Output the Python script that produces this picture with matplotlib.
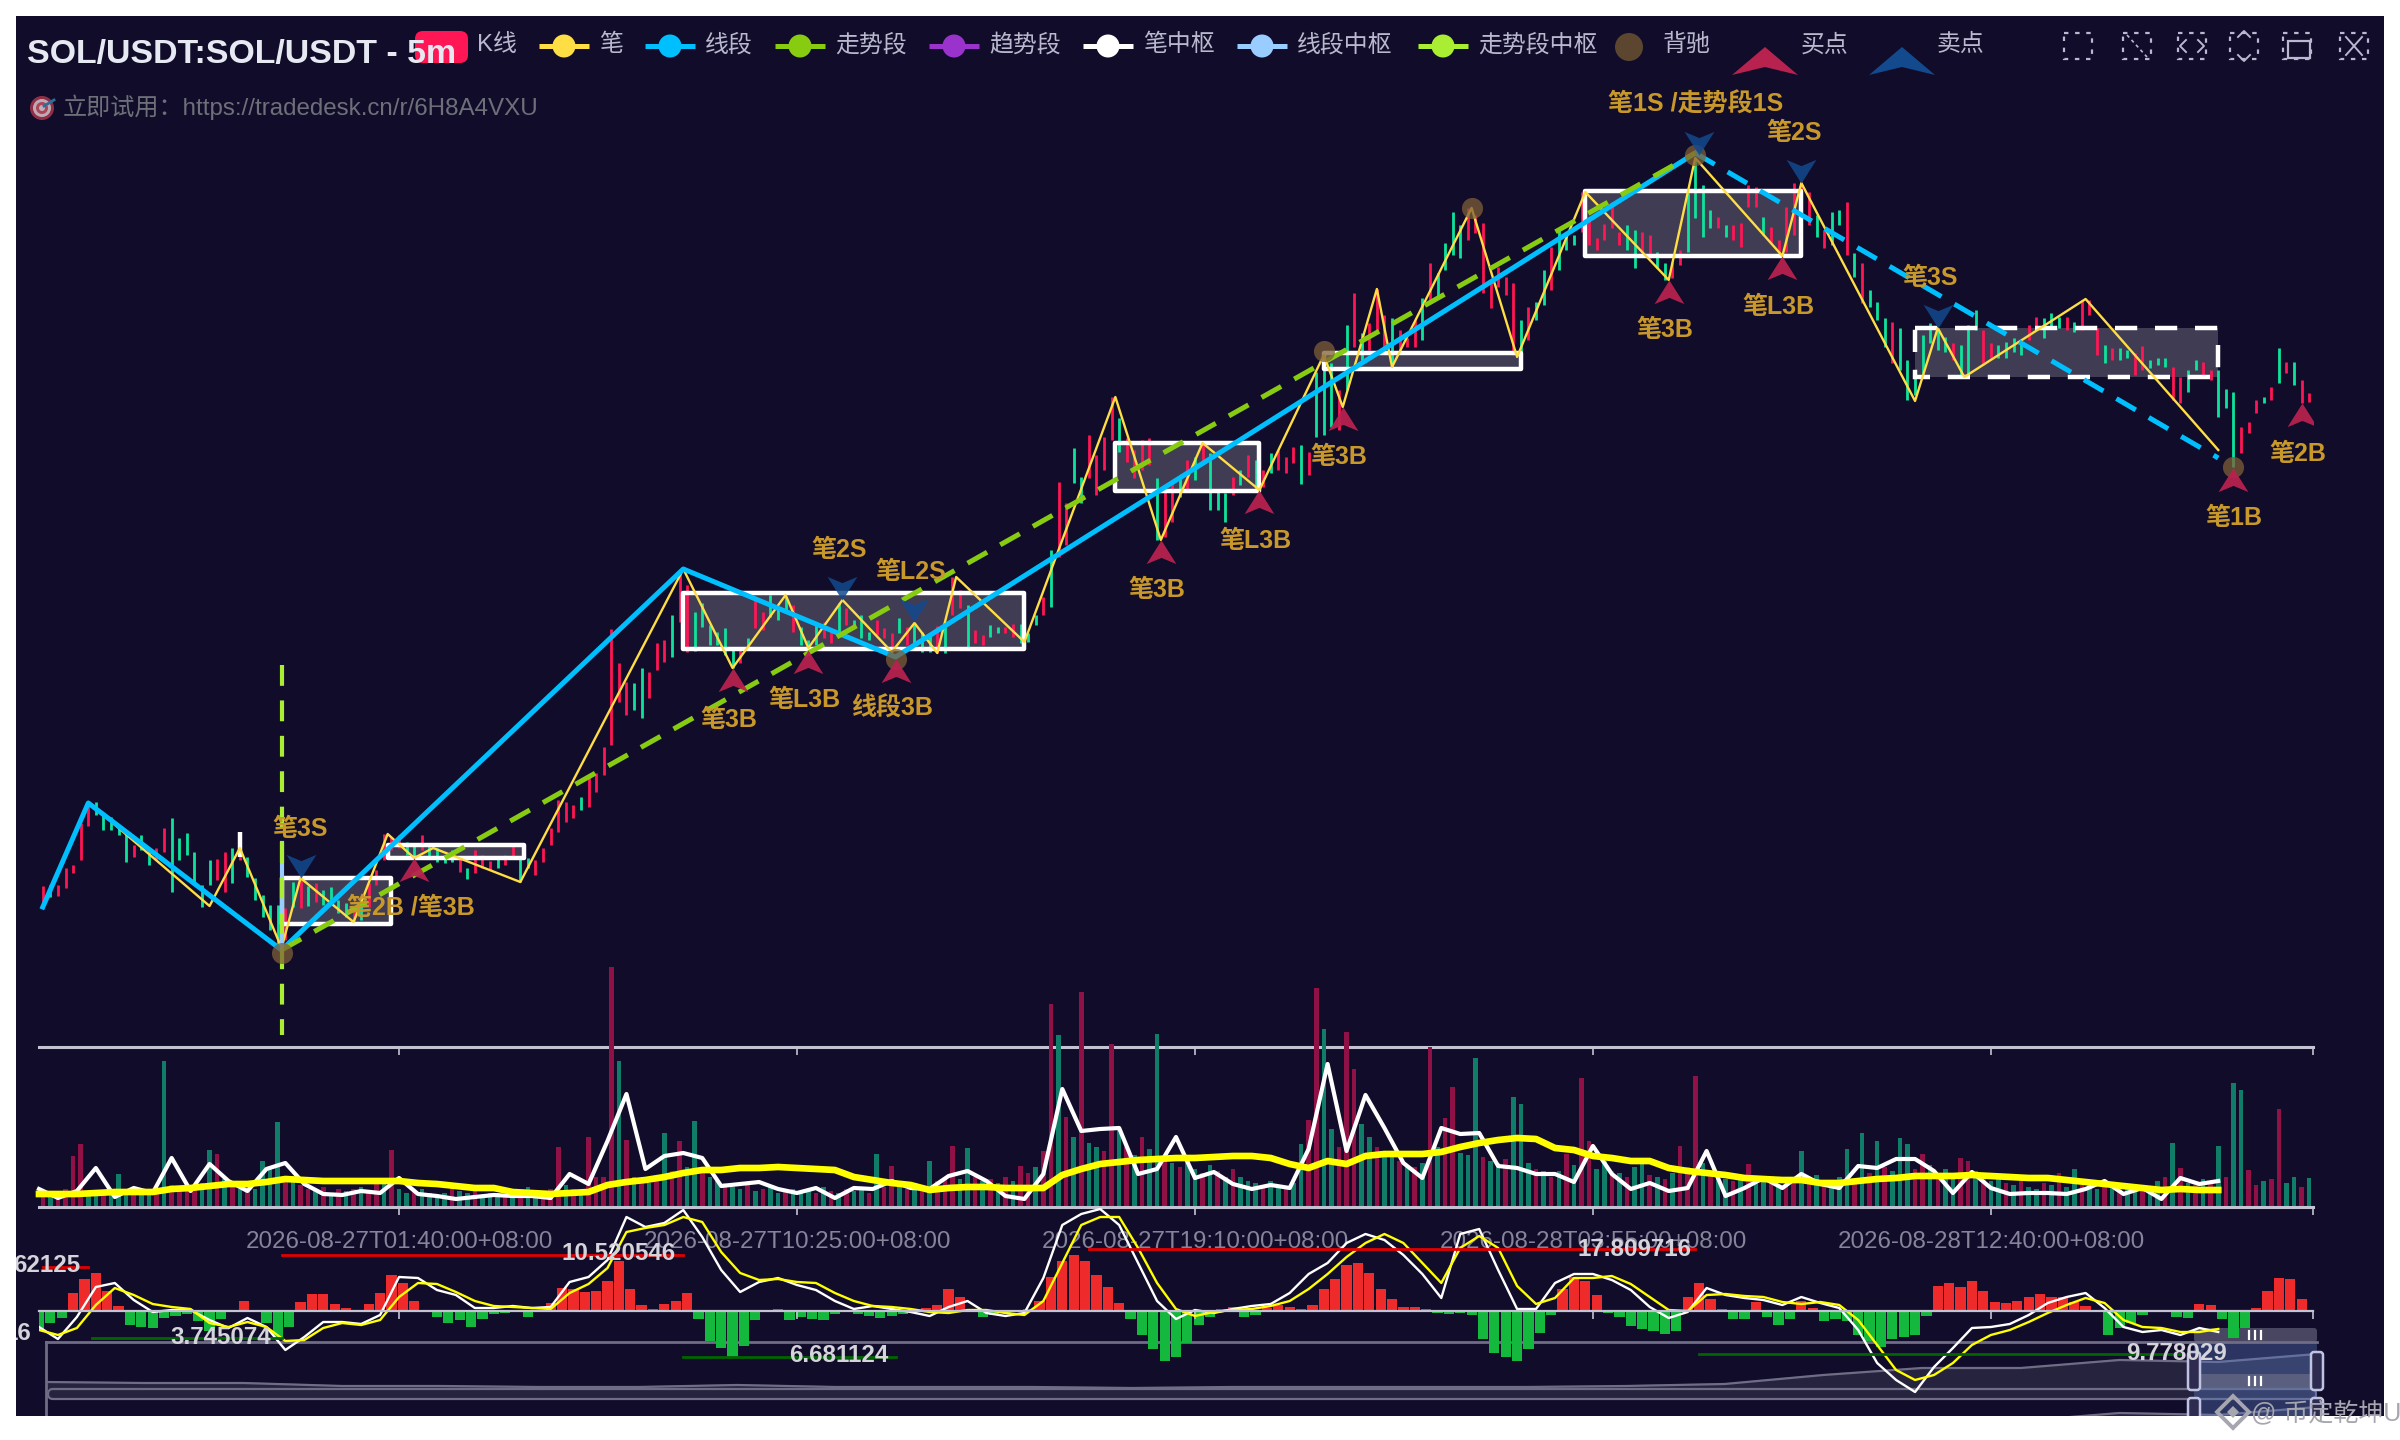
import matplotlib
matplotlib.use('Agg')
import matplotlib.pyplot as plt
import numpy as np
from matplotlib.patches import Rectangle, FancyBboxPatch, Circle, Polygon
from matplotlib.path import Path

plt.rcParams['font.family'] = ['Liberation Sans', 'Noto Sans CJK SC', 'DejaVu Sans']

# no price axis in the picture, so price levels are read as rows and the axis runs downward
candle_top = [886,885,885,868,865,823,803,
    802,815,817,825,830,845,835,848,848,828,818,838,833,852,885,
    860,859,852,848, 847,857,878,895,905,905, 908,882,878,
    886,883,890,887,900,903,910, 903,883,870,834, 837,835,842,843, 835,845,
    848,855,850,858,868,850,855,861,857,855,845,858,
    858,860,848,828,800,802,805,797,777,773,747,629,663,682,683,668,672,643,640,615,569,
    585,612,603,625,632,628,650,650,638,597,612,595,607,597,605,627,640,625,622,628,603,608,
    620,615,632,620,628,633,618,627,623,632,633,626,622,577,590,605,630,635,625,627,627,624,624,633,
    615,597,550,482,503,448,477,435,455,437,397,
    418,438,450,440,438,478, 487,482,478,460,457,444, 453,492,493,477,470,455,460,
    470,453,450,457,447,445,452,372, 355,363,390, 325,293,333,323,289, 315,318,
    330,338,320,298,263,273,243,212,225,208, 215,223,280,267,277,283,
    320,307,302,270,247,228,233,235,192, 220,238,224,202,232,225,230,232,235,252,263,
    262,250,193,158, 185,210,217,225,225,223,185,187,217,227,240, 207,183,
    185,192,215,230,212,210,202,253,263,290,302,318,322,328,360, 372,335,323, 330,337,343,345,
    325,310,330,343,345,342,338,343,325,317,318,313,317,317,322,300,
    300,328,345,348,348,350,353,346,360,358,358,367,377,370,360,362,370,370,
    389,392, 427,422,400,397,387,348,362,362,380,393]
candle_bot = [905,897,896,888,873,860,826,
    815,830,830,835,862,857,850,865,860,852,892,860,855,885,907,
    885,880,892,883, 860,877,900,917,930,948, 940,907,908,
    906,902,905,903,913,917,923, 920,907,885,860, 850,848,855,858, 850,858,
    862,863,862,872,879,873,868,870,868,865,857,882,
    868,875,862,845,832,822,818,810,807,792,775,745,702,715,710,718,698,670,662,657,622,
    652,651,627,645,645,655,668,663,650,628,630,617,620,612,632,645,648,645,638,643,633,625,
    627,638,640,635,638,652,633,645,650,652,652,653,653,615,608,650,643,645,637,633,633,637,643,642,
    625,615,607,557,545,483,503,478,495,470,440,
    452,462,478,470,465,540, 537,522,497,492,480,462, 510,510,522,495,485,477,490,
    487,473,470,473,463,484,475,437, 435,427,430, 390,347,362,350,332, 347,367,
    352,347,347,340,302,298,270,255,258,240, 233,293,308,287,295,355,
    357,340,320,305,290,270,250,245,232, 245,250,240,228,245,250,268,253,258,268,280,
    278,265,252,218, 237,228,228,237,240,247,207,207,235,243,256, 252,235,
    217,225,237,248,245,225,255,277,303,307,320,347,363,370,400, 395,373,343, 350,352,360,377,
    377,330,365,358,358,358,352,355,340,330,338,327,328,330,332,330,
    315,355,363,360,360,358,375,370,368,365,367,400,403,392,370,377,380,417,
    408,467, 453,433,413,403,400,383,373,385,403,402]
candle_dir = ('rgrrrrr' 'ggggg' 'rggrrgggggg' 'rrgr' 'gggggr' 'grg' 'rggggrg' 'rrrr' 'rggr' 'gg'
    'ggrgrrrgrrgg' 'rrrrrrgrrrrrrggrrrgrr'
    'ggggggrgrrggg' 'rggg' 'rrgr' 'gggrrrgrgg' 'gr' 'grrgrrggr' 'rgggrgrrgg' 'r'
    'rrrgrrrrgrr' 'grgrgg' 'grgrgr' 'grrrgrg'
    'ggrgrgrr' 'rgr' 'rrgrg' 'gg' 'grrrrrrrgr' 'ggrggg' 'rrrrrrggr' 'rggrrggggrg' 'rrrr'
    'grrrrrrgrgg' 'rg' 'rgggrgggggggrgg' 'grr' 'gggg' 'rrgggrgrrrgrggrr'
    'gggrrggrrgggrrrgrg' 'rg' 'rrrgrrgggr')

# pen, segment and trend turning points: bar number and level
pen_bar = [1,13,45,53,64,69,83,92,99,104,127,170,183,197,203,212,225,231,237,242,260,284,296,307,
           322,339,344,353,357,378,390,408,430,437,460,465,495,501,508,540,575]
pen_level = [907,802,906,848,948,878,922,834,858,848,882,569,668,595,648,600,652,623,653,577,642,
             397,540,443,490,355,407,289,367,208,357,192,280,158,256,183,401,328,377,299,450]
seg_bar = [1,13,64,170,226,437]
seg_level = [907,803,950,569,657,153]
seg_open_bar = [437,575]
seg_open_level = [153,458]
trend_bar = [64,437]
trend_level = [950,153]

# pen hubs: first bar, last bar, upper level, lower level
hub_first = [64,92,170,284,339,408,53]
hub_last = [93,128,260,322,391,465,53]
hub_upper = [878,845,593,443,353,191,832]
hub_lower = [924,858,649,491,369,256,857]
open_hub = (495,575,328,377)

buy_bar = [99,183,203,226,296,322,344,430,460,579,597]
buy_level = [858,668,650,659,540,490,407,280,256,468,403]
sell_bar = [69,212,231,438,465,501]
sell_level = [878,600,622,155,183,328]
div_bar = [64,226,339,378,437,579]
div_level = [953,659,351,208,155,467]

signal_text = ['笔3S','笔2B /笔3B','笔2S','笔L2S','笔3B','笔L3B','线段3B','笔3B','笔L3B','笔3B',
               '笔1S /走势段1S','笔2S','笔3B','笔L3B','笔3S','笔1B','笔2B']
signal_bar = [69,98,211,230,182,202,225,295,321,343,437,463,429,459,499,579,596]
signal_level = [829,908,550,572,720,700,709,590,541,457,105,133,330,307,278,518,454]

volume = [12,14,16,18,51,63,16,14,16,13,33,15,14,16,15,16,146,22,20,18,
    20,24,57,53,28,20,18,22,18,46,40,85,30,25,22,18,16,20,14,18,
    16,18,20,16,24,28,57,18,14,16,18,14,12,14,20,16,14,16,12,14,
    14,12,18,16,20,16,14,18,60,22,18,16,70,30,30,240,146,67,30,28,
    24,30,74,36,66,40,86,38,30,26,24,20,18,22,16,18,20,14,16,18,
    16,18,14,20,16,14,18,16,20,14,53,20,41,22,18,24,20,46,26,28,
    61,28,59,30,26,28,24,30,26,41,34,40,56,203,172,90,70,215,64,60,
    56,163,80,60,52,70,58,173,48,44,40,46,38,34,42,36,30,38,30,26,
    24,20,26,22,18,24,63,87,219,178,78,60,175,138,83,70,60,54,50,46,
    42,40,44,160,60,89,120,54,52,149,50,46,44,48,110,103,44,38,36,30,
    36,53,42,129,66,38,46,36,34,30,40,46,32,30,28,34,61,40,131,44,
    34,30,28,26,32,43,26,30,24,22,26,28,56,30,32,22,26,30,58,28,
    74,34,66,40,36,69,63,38,53,42,34,38,30,49,46,36,30,26,28,24,
    22,26,20,18,24,22,34,20,38,22,26,18,24,20,18,22,18,16,20,26,
    30,64,39,24,22,28,24,61,30,124,117,37,22,26,28,98,24,30,20,29]
volume_dir = ('rgrrrrggrgggrggrgrrr' 'rggrgrgrggggrgrrgrgr' 'grgrrgrggrggggrggrgg'
    'grgrggrrrgrgrrrrgrgr' 'grgrrggrggrggrgrggrg' 'ggrgrgrggrgrrgrgrgrr'
    'rggrgrgrgrrgrrgrgrgg' 'rrgrgrggrgrggrgrgrgg' 'grggrggrrggrrrggrggr'
    'grgrgrrgggrggrgggrgr' 'grgrrggrgrggrgrgrrrg' 'rggrgrggrgrrgrgrgggr'
    'grgrgggrrgrggrrgrggr' 'grggrgrggrggrgrggrgg' 'rgrgrgrgrggrrgrrggrg')
vol_fast = [18,9,16,39,10,19,14,49,16,43,26,16,38,44,23,13,12,16,14,29,13,11,8,10,12,11,11,9,33,23,
    66,113,38,51,54,49,21,23,25,18,14,19,9,19,18,26,19,18,31,36,26,11,8,33,118,76,78,79,33,38,
    70,29,35,23,18,22,19,58,143,56,112,79,44,29,79,73,74,41,39,33,33,25,61,33,18,24,16,19,56,11,
    19,29,19,33,23,19,41,39,48,48,36,14,35,19,13,14,14,13,18,26,13,19,8,29,23,26]
vol_slow = [13,13,13,14,15,15,15,18,19,21,23,23,25,28,27,26,26,26,26,26,24,23,21,19,19,15,14,13,14,15,
    22,25,27,30,34,37,37,39,39,40,39,38,37,30,27,24,22,17,19,20,20,19,19,19,32,38,43,45,47,48,
    49,49,50,51,51,49,43,39,46,43,51,53,53,53,55,60,64,67,69,68,59,57,51,49,46,46,39,36,34,32,
    29,28,27,27,24,24,26,28,29,31,31,31,32,31,30,29,29,27,25,23,21,19,17,18,17,17]

macd_hist = [-20,-12,-7,18,32,38,20,5,-14,-16,-17,-7,-5,-3,-10,-20,-8,-1,10,0,
    -12,-27,-16,9,17,17,7,3,0,7,18,36,28,10,1,-6,-12,-9,-16,-8,
    -3,-2,-1,-6,-1,8,23,22,19,20,30,50,22,6,2,7,10,18,-8,-30,
    -37,-46,-35,-9,0,2,-9,-6,-8,-9,-3,1,-3,-5,-7,-5,-3,1,3,6,
    22,14,2,-6,-4,-2,-1,2,10,34,50,56,50,36,24,8,-8,-24,-38,-50,
    -46,-32,-14,-6,2,4,-6,-4,3,6,4,2,6,22,32,46,48,38,22,12,
    4,4,2,-2,-3,-2,-4,-28,-42,-46,-50,-38,-22,-4,22,34,30,16,-2,-6,
    -15,-18,-20,-23,-20,14,28,12,2,-8,-8,9,-6,-14,-8,10,3,-10,-8,-10,
    -24,-30,-36,-28,-26,-24,-5,25,28,24,30,20,9,8,10,14,17,14,14,9,
    5,0,-24,-17,-12,-4,-1,1,-6,-7,7,6,-8,-27,-17,3,20,33,32,12,0]
macd_dif = [-16,-28,-6,24,28,11,-1,1,1,-9,-17,-7,-16,-39,-26,-11,-11,-13,-4,34,33,21,16,3,3,5,3,4,29,34,
    51,94,84,88,101,74,41,19,29,33,26,21,10,2,5,2,-1,-5,4,10,-2,-5,-2,33,86,97,102,86,48,10,
    -8,1,-2,2,5,7,18,37,48,68,77,71,56,37,13,77,82,41,2,2,28,37,37,31,21,4,-7,-1,23,16,
    13,11,6,14,8,3,-19,-52,-69,-81,-56,-37,-17,-16,-13,-4,8,14,18,3,-16,-21,-19,-24,-17,-21]
macd_dea = [-19,-24,-17,6,23,16,7,4,2,-12,-16,-11,-16,-30,-29,-17,-12,-14,-9,14,28,27,19,10,5,4,3,2,18,27,
    43,79,83,86,94,89,59,38,31,32,29,28,18,10,5,4,2,-1,-2,1,1,-2,-4,10,48,86,94,94,63,28,
    2,-5,-1,1,2,5,10,22,37,54,68,77,68,48,28,63,75,63,25,7,13,33,33,35,27,14,1,0,16,17,
    15,14,9,7,9,6,-9,-34,-59,-69,-64,-52,-34,-24,-19,-11,-2,6,13,8,-9,-16,-17,-21,-21,-18]

# overview line in the zoom slider, one reading per slider step
slider_line = [6,5,5,2,2,1,1,3,1,1,1,0,1,1,1,1,2,4,13,20,20,28,26,34]

tick_bars = [95,200,305,410,515,600]
tick_labels = ['2026-08-27T01:40:00+08:00','2026-08-27T10:25:00+08:00','2026-08-27T19:10:00+08:00',
               '2026-08-28T03:55:00+08:00','2026-08-28T12:40:00+08:00','']

legend_names = ['笔','线段','走势段','趋势段','笔中枢','线段中枢','走势段中枢']
legend_colours = ['#ffdd44','#00bfff','#88cc11','#9933cc','#ffffff','#99ccff','#aaee33']
legend_icon_x = [539,645,775,929,1083,1237,1418]

BG = '#100c2a'
AXIS = '#c4c3d3'
RED = '#ff1654'
GREEN = '#0ee39c'
GOLD = '#c8982a'
BUY = '#b8224f'
SELL = '#134a8e'

fig = plt.figure(figsize=(12, 7.2), dpi=200, facecolor='white')

def box(l, t, r, b):
    a = fig.add_axes([l/2400, 1-b/1440, (r-l)/2400, (b-t)/1440])
    a.patch.set_alpha(0)
    return a

# background layer in picture pixels
ax_bg = box(0, 0, 2400, 1440)
ax_bg.set_xlim(0, 2400); ax_bg.set_ylim(1440, 0); ax_bg.axis('off')
ax_bg.add_patch(Rectangle((16, 16), 2368, 1400, fc=BG, ec='none'))

# main chart
ax = box(39, 0, 2313, 1047)
ax.set_xlim(0, 600); ax.set_ylim(1047, 0)
for s in ['top', 'left', 'right']:
    ax.spines[s].set_visible(False)
ax.spines['bottom'].set_color(AXIS); ax.spines['bottom'].set_linewidth(1.1)
ax.set_yticks([])
ax.set_xticks(tick_bars); ax.set_xticklabels([])
ax.tick_params(axis='x', colors=AXIS, length=3, width=0.6, direction='out')

for f, l, u, d in zip(hub_first, hub_last, hub_upper, hub_lower):
    ax.add_patch(Rectangle((f, u), l-f, d-u, fc='white', alpha=0.2, ec='none', zorder=1))
    ax.add_patch(Rectangle((f, u), l-f, d-u, fc='none', ec='white', lw=1.6, zorder=3, joinstyle='round'))
f, l, u, d = open_hub
ax.add_patch(Rectangle((f, u), l-f, d-u, fc='white', alpha=0.2, ec='none', zorder=1))
ax.add_patch(Rectangle((f, u), l-f, d-u, fc='none', ec='white', lw=1.6, ls=(0, (5, 4)), zorder=3))

candle_x = 2*np.arange(len(candle_top)) + 1
candle_col = [RED if c == 'r' else GREEN for c in candle_dir]
ax.vlines(candle_x, candle_top, candle_bot, colors=candle_col, lw=1.0, zorder=2)

ax.plot(pen_bar, pen_level, color='#ffdd44', lw=0.85, zorder=4)
ax.plot(seg_bar, seg_level, color='#00bfff', lw=1.8, zorder=5)
ax.plot(seg_open_bar, seg_open_level, color='#00bfff', lw=1.8, ls=(0, (4.5, 3)), zorder=5)
ax.plot(trend_bar, trend_level, color='#88cc11', lw=1.8, ls=(0, (4.5, 3)), zorder=5)
ax.plot([64, 64], [843, 948], color='#99ccff', lw=1.5, zorder=5)
ax.plot([64, 64], [665, 1035], color='#aaee33', lw=1.5, ls=(0, (5, 3.5)), zorder=5)

# marker paths are in screen space: y up, tip on the data point
up_arrow = Path([(0, 0), (12, -19), (0, -14), (-12, -19), (0, 0)], closed=True)
down_arrow = Path([(0, 0), (12, 19), (0, 14), (-12, 19), (0, 0)], closed=True)
ax.plot(div_bar, div_level, 'o', color='#7f5f38', alpha=0.75, ms=7.6, mew=0, zorder=6)
ax.plot(sell_bar, sell_level, ls='none', marker=down_arrow, color=SELL, alpha=0.85, ms=17, mew=0, zorder=7)
ax.plot(buy_bar, buy_level, ls='none', marker=up_arrow, color=BUY, alpha=0.95, ms=17, mew=0, zorder=7)

for t, b, l in zip(signal_text, signal_bar, signal_level):
    ax.text(b, l, t, color=GOLD, fontsize=9, fontweight='bold', ha='center', va='center', zorder=8)

# volume
ax_v = box(39, 1047, 2313, 1207)
ax_v.set_xlim(0, 600); ax_v.set_ylim(0, 160)
for s in ['top', 'left', 'right']:
    ax_v.spines[s].set_visible(False)
ax_v.spines['bottom'].set_color(AXIS); ax_v.spines['bottom'].set_linewidth(1.1)
ax_v.set_yticks([])
vol_x = 2*np.arange(len(volume)) + 1
vol_col = ['#8f1145' if c == 'r' else '#0f7d68' for c in volume_dir]
ax_v.bar(vol_x, volume, width=1.2, color=vol_col, clip_on=False)
ax_v.plot(5*np.arange(len(vol_fast)), vol_fast, color='white', lw=1.5, clip_on=False, solid_joinstyle='round')
ax_v.plot(5*np.arange(len(vol_slow)), vol_slow, color='#ffff00', lw=2.4, clip_on=False)
ax_v.set_xticks(tick_bars); ax_v.set_xticklabels(tick_labels)
ax_v.tick_params(axis='x', colors=AXIS, labelcolor='#85849a', labelsize=8.7, length=3, width=0.6, pad=5.5)

# zoom slider sits under the macd lines
for top in [1342, 1395]:
    ax_s = box(46, top, 2317, top+46)
    ax_s.set_xlim(0, len(slider_line)-1); ax_s.set_ylim(0, 46); ax_s.axis('off')
    ax_s.fill_between(range(len(slider_line)), slider_line, 0, color='#26233f')
    ax_s.plot(slider_line, color='#6e6d85', lw=0.8)

ax_bg2 = box(0, 0, 2400, 1440)
ax_bg2.set_xlim(0, 2400); ax_bg2.set_ylim(1440, 0); ax_bg2.axis('off')
ax_bg2.add_patch(FancyBboxPatch((48, 1389), 2268, 10, boxstyle='round,pad=0,rounding_size=5',
                                fc='#26233f', ec='#6e6d85', lw=0.8))
ax_bg2.plot([46, 2317], [1342, 1342], color='#6e6d85', lw=1.0)
ax_bg2.plot([46, 46], [1342, 1416], color='#6e6d85', lw=1.0)
ax_bg2.add_patch(Rectangle((2194, 1342), 123, 74, fc='#5a78c0', alpha=0.38, ec='none'))
for y0 in [1328, 1374]:
    ax_bg2.add_patch(FancyBboxPatch((2194, y0), 123, 14, boxstyle='round,pad=0,rounding_size=3',
                                    fc='#77778f', alpha=0.55, ec='none'))
    for dx in [-6, 0, 6]:
        ax_bg2.plot([2255+dx, 2255+dx], [y0+3, y0+11], color='white', lw=0.8)
for hx in [2194, 2317]:
    for hy, hh in [(1352, 38), (1398, 30)]:
        ax_bg2.add_patch(FancyBboxPatch((hx-6, hy), 12, hh, boxstyle='round,pad=0,rounding_size=3',
                                        fc='#2e2b50', ec='#c0c3e0', lw=0.9))

# macd
ax_m = box(39, 1207, 2313, 1416)
ax_m.set_xlim(0, 600); ax_m.set_ylim(-105, 104)
for s in ['top', 'left', 'right']:
    ax_m.spines[s].set_visible(False)
ax_m.spines['bottom'].set_position(('data', 0))
ax_m.spines['bottom'].set_color(AXIS); ax_m.spines['bottom'].set_linewidth(0.8)
ax_m.set_yticks([])
ax_m.set_xticks(tick_bars); ax_m.set_xticklabels([])
ax_m.tick_params(axis='x', colors=AXIS, length=3, width=0.6)
hist_x = 3*np.arange(len(macd_hist))
hist_col = ['#ee2a2a' if v > 0 else '#14b83c' for v in macd_hist]
ax_m.bar(hist_x, macd_hist, width=2.7, color=hist_col)
ax_m.plot(5*np.arange(len(macd_dif)), macd_dif, color='white', lw=0.85)
ax_m.plot(5*np.arange(len(macd_dea)), macd_dea, color='#ffff00', lw=0.85)

mark_first = [64,1,277,14,170,438]
mark_last = [170,13,437,64,226,565]
mark_value = [56,44,62,-27,-46,-43]
mark_colour = ['#e00000','#e00000','#e00000','#006400','#006400','#006400']
for a, b, v, c in zip(mark_first, mark_last, mark_value, mark_colour):
    ax_m.plot([a, b], [v, v], color=c, lw=1.0)
mark_text = ['10.520546','3.745074','6.681124','17.809716','9.778029']
mark_text_x = [153,48,211,421,564]
mark_text_y = [57,-26,-44,62,-42]
for t, a, v in zip(mark_text, mark_text_x, mark_text_y):
    ax_m.text(a, v, t, color='#d4d4da', fontsize=8.7, fontweight='bold', ha='center', va='center')
ax_m.text(11, 45, '62125', color='#d4d4da', fontsize=8.7, fontweight='bold', ha='right', va='center')
ax_m.text(-2, -22, '16', color='#d4d4da', fontsize=8.7, fontweight='bold', ha='right', va='center')

# top layer: legend, title, toolbox, page margin
ax_t = box(0, 0, 2400, 1440)
ax_t.set_xlim(0, 2400); ax_t.set_ylim(1440, 0); ax_t.axis('off')
LEG = '#b9b8ce'
ax_t.add_patch(FancyBboxPatch((415, 31), 53, 32, boxstyle='round,pad=0,rounding_size=8', fc='#ff1654', ec='none'))
ax_t.text(27, 55, 'SOL/USDT:SOL/USDT - 5m', color='#e6e9f2', fontsize=12.2, fontweight='bold', va='center')
ax_t.text(477, 45, 'K线', color=LEG, fontsize=8.6, va='center')
for n, c, x0 in zip(legend_names, legend_colours, legend_icon_x):
    ax_t.plot([x0, x0+50], [46, 46], color=c, lw=1.8, solid_capstyle='butt')
    ax_t.add_patch(Circle((x0+25, 46), 11.5, fc=c, ec='none'))
    ax_t.text(x0+60, 45, n, color=LEG, fontsize=8.6, va='center')
ax_t.add_patch(Circle((1629, 47), 14, fc='#5c4630', ec='none'))
ax_t.text(1663, 45, '背驰', color=LEG, fontsize=8.6, va='center')
for cx, c, tx, name in [(1765, BUY, 1801, '买点'), (1902, SELL, 1937, '卖点')]:
    ax_t.add_patch(Polygon([(cx, 47), (cx+33, 75), (cx, 67), (cx-33, 75)], fc=c, ec='none'))
    ax_t.text(tx, 45, name, color=LEG, fontsize=8.6, va='center')

for r, c in [(12, '#a8354a'), (9, '#c8c0c8'), (6, '#a8354a'), (3, '#c8c0c8')]:
    ax_t.add_patch(Circle((42, 108), r, fc=c, ec='none', alpha=0.85))
ax_t.plot([44, 54], [106, 100], color='#2a6f9a', lw=1.0)
ax_t.text(63, 107, '立即试用：https://tradedesk.cn/r/6H8A4VXU', color='#6e7079', fontsize=8.7, va='center')

# toolbox glyphs
tool_x = [2078, 2137, 2192, 2244, 2297, 2354]
for cx in tool_x:
    ax_t.add_patch(Rectangle((cx-14, 33), 28, 26, fc='none', ec=LEG, lw=0.8, ls=(0, (2, 3))))
ax_t.plot([tool_x[1]-10, tool_x[1]+10], [35, 57], color=LEG, lw=0.6, ls=(0, (2, 2)))
ax_t.plot([tool_x[2]-6, tool_x[2]-12, tool_x[2]-6], [40, 46, 52], color=LEG, lw=0.7)
ax_t.plot([tool_x[2]+6, tool_x[2]+12, tool_x[2]+6], [40, 46, 52], color=LEG, lw=0.7)
ax_t.plot([tool_x[3]-6, tool_x[3], tool_x[3]+6], [37, 31, 37], color=LEG, lw=0.7)
ax_t.plot([tool_x[3]-6, tool_x[3], tool_x[3]+6], [55, 61, 55], color=LEG, lw=0.7)
ax_t.add_patch(Rectangle((tool_x[4]-9, 41), 22, 17, fc='none', ec=LEG, lw=0.8))
ax_t.plot([tool_x[5]-8, tool_x[5]+8], [37, 55], color=LEG, lw=0.7)
ax_t.plot([tool_x[5]+8, tool_x[5]-8], [37, 55], color=LEG, lw=0.7)

# page margin hides anything running past the dark panel
for xy, w, h in [((0, 0), 16, 1440), ((2384, 0), 16, 1440), ((0, 0), 2400, 16), ((0, 1416), 2400, 24)]:
    ax_t.add_patch(Rectangle(xy, w, h, fc='white', ec='none', zorder=20))

# watermark
ax_t.add_patch(Polygon([(2233, 1396), (2249, 1412), (2233, 1428), (2217, 1412)], fc='none', ec='#a6a6b0', lw=1.4, zorder=21))
ax_t.add_patch(Polygon([(2233, 1406), (2239, 1412), (2233, 1418), (2227, 1412)], fc='#a6a6b0', ec='none', zorder=21))
ax_t.text(2251, 1413, '@ 币定乾坤U', color='#a6a6b0', fontsize=9.0, va='center', zorder=21)

fig.savefig('out.png', dpi=200)
